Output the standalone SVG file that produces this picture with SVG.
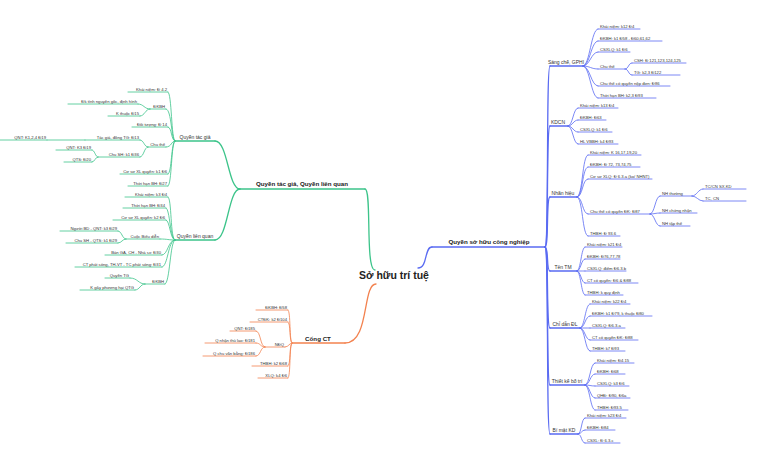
<svg xmlns="http://www.w3.org/2000/svg" width="768" height="467" viewBox="0 0 768 467">
<style>
text{font-family:"Liberation Sans",Arial,sans-serif;fill:#333;font-size:4.2px}
.r{text-anchor:end}
path{fill:none;stroke-width:0.8;stroke-linecap:round}
.g{stroke:#3cc48a}.b{stroke:#5a6bf2}.o{stroke:#f3824f}
.w{stroke-width:1.3}
.s{font-size:5px}
.m{font-size:6.2px;font-weight:bold;fill:#222}
</style>
<rect width="768" height="467" fill="#fff"/>
<g id="connectors">
<path class="g w" d="M375 270 C365 270 372 189 365 189"/>
<path class="g w" d="M240 189 C228 189 228 141 215 141"/>
<path class="g w" d="M240 189 C228 189 228 240 215 240"/>
<path class="g" d="M175 141 C171 141 172 92 168 92"/>
<path class="g" d="M175 141 C171 141 172 109 166 109"/>
<path class="g" d="M175 141 C171 141 172 127 168 127"/>
<path class="g" d="M175 141 C171 141 172 147 166 147"/>
<path class="g" d="M175 141 C171 141 172 174 168 174"/>
<path class="g" d="M175 141 C171 141 172 186 168 186"/>
<path class="g" d="M150 109 C144 109 144 104 138 104"/>
<path class="g" d="M150 109 C145 109 145 116 140 116"/>
<path class="g" d="M148 147 C144 147 144 140 140 140"/>
<path class="g" d="M148 147 C144 147 144 157 140 157"/>
<path class="g" d="M85 140 L47 140"/>
<path class="g" d="M98 157 C95 157 95 150 92 150"/>
<path class="g" d="M98 157 C95 157 95 162 92 162"/>
<path class="g" d="M175 240 C170 240 172 197 168 197"/>
<path class="g" d="M175 240 C170 240 170 208 166 208"/>
<path class="g" d="M175 240 C170 240 170 220 166 220"/>
<path class="g" d="M175 240 C168 240 168 239 160 239"/>
<path class="g" d="M175 240 C168 240 168 255 162 255"/>
<path class="g" d="M175 240 C168 240 168 267 162 267"/>
<path class="g" d="M175 240 C170 240 170 284 165 284"/>
<path class="g" d="M126 239 C122 239 122 231 118 231"/>
<path class="g" d="M126 239 C122 239 122 243 118 243"/>
<path class="g" d="M145 284 C138 284 138 278 130 278"/>
<path class="g" d="M145 284 C140 284 140 290 135 290"/>
<path class="o w" d="M376 284 C362 284 370 343 345 343"/>
<path class="o" d="M292 343 C289 343 291 310 288 310"/>
<path class="o" d="M292 343 C289 343 291 322 288 322"/>
<path class="o" d="M292 343 C289 343 289 347 285 347"/>
<path class="o" d="M292 343 C289 343 291 366 288 366"/>
<path class="o" d="M292 343 C289 343 291 378 288 378"/>
<path class="o" d="M265 347 C260 347 261 331 256 331"/>
<path class="o" d="M265 347 C260 347 261 343 256 343"/>
<path class="o" d="M265 347 C260 347 261 356 256 356"/>
<path class="b w" d="M418 268 C428 268 424 247 432 247"/>
<path class="b w" d="M545 247 C549 247 546 66 550 66"/>
<path class="b w" d="M545 247 C549 247 546 126 550 126"/>
<path class="b w" d="M545 247 C549 247 546 197 550 197"/>
<path class="b w" d="M545 247 C549 247 546 271 550 271"/>
<path class="b w" d="M545 247 C549 247 546 328 550 328"/>
<path class="b w" d="M545 247 C549 247 546 385 550 385"/>
<path class="b w" d="M545 247 C549 247 546 434 550 434"/>
<path class="b" d="M583 66 C590 66 591 29 598 29"/>
<path class="b" d="M583 66 C590 66 591 41 598 41"/>
<path class="b" d="M583 66 C590 66 591 52 598 52"/>
<path class="b" d="M583 66 C590 66 591 69 598 69"/>
<path class="b" d="M583 66 C590 66 591 86 598 86"/>
<path class="b" d="M583 66 C590 66 591 98 598 98"/>
<path class="b" d="M625 69 C629 69 628 63 632 63"/>
<path class="b" d="M625 69 C629 69 628 75 632 75"/>
<path class="b" d="M568 126 C573 126 573 108 578 108"/>
<path class="b" d="M568 126 C573 126 573 120 578 120"/>
<path class="b" d="M568 126 C573 126 573 132 578 132"/>
<path class="b" d="M568 126 C573 126 573 144 578 144"/>
<path class="b" d="M577 197 C583 197 582 155 588 155"/>
<path class="b" d="M577 197 C583 197 582 167 588 167"/>
<path class="b" d="M577 197 C583 197 582 179 588 179"/>
<path class="b" d="M577 197 C583 197 582 214 588 214"/>
<path class="b" d="M577 197 C583 197 582 236 588 236"/>
<path class="b" d="M650 214 C655 214 655 196 660 196"/>
<path class="b" d="M650 214 C655 214 655 213 660 213"/>
<path class="b" d="M650 214 C655 214 655 226 660 226"/>
<path class="b" d="M692 196 C697 196 698 189 703 189"/>
<path class="b" d="M692 196 C697 196 698 201 703 201"/>
<path class="b" d="M577 271 C581 271 581 247 585 247"/>
<path class="b" d="M577 271 C581 271 581 259 585 259"/>
<path class="b" d="M577 271 C581 271 581 271 585 271"/>
<path class="b" d="M577 271 C581 271 581 283 585 283"/>
<path class="b" d="M577 271 C581 271 581 295 585 295"/>
<path class="b" d="M580 328 C585 328 585 304 590 304"/>
<path class="b" d="M580 328 C585 328 585 316 590 316"/>
<path class="b" d="M580 328 C585 328 585 328 590 328"/>
<path class="b" d="M580 328 C585 328 585 340 590 340"/>
<path class="b" d="M580 328 C585 328 585 351 590 351"/>
<path class="b" d="M585 385 C590 385 590 363 595 363"/>
<path class="b" d="M585 385 C590 385 590 374 595 374"/>
<path class="b" d="M585 385 C590 385 590 386 595 386"/>
<path class="b" d="M585 385 C590 385 590 398 595 398"/>
<path class="b" d="M585 385 C590 385 590 410 595 410"/>
<path class="b" d="M578 434 C582 434 581 418 585 418"/>
<path class="b" d="M578 434 C582 434 581 430 585 430"/>
<path class="b" d="M578 434 C582 434 581 443 585 443"/>
</g>
<g id="root"><text x="394" y="279" text-anchor="middle" style="font-size:10.5px;font-weight:bold;fill:#222">Sở hữu trí tuệ</text></g>
<g id="qtg-main"><path class="g w" d="M240 189 H365"/><text class="m" x="302" y="186" text-anchor="middle">Quyền tác giả, Quyền liên quan</text></g>
<g id="qtg"><path class="g w" d="M175 141 H215"/><text class="s" x="195" y="139" text-anchor="middle">Quyền tác giả</text></g>
<g id="g1"><path class="g" d="M128 92 H168"/><text class="r" x="167" y="90.5">Khái niệm: Đ 4.2</text></g>
<g id="g2"><path class="g" d="M150 109 H166"/><text class="r" x="165" y="107.5">ĐKBH</text></g>
<g id="g2a"><path class="g" d="M68 104 H138"/><text class="r" x="137" y="102.5">Đk tính nguyên gốc, định hình</text></g>
<g id="g2b"><path class="g" d="M108 116 H140"/><text class="r" x="139" y="114.5">K thuộc Đ15</text></g>
<g id="g3"><path class="g" d="M132 127 H168"/><text class="r" x="167" y="125.5">Đối tượng: Đ 14</text></g>
<g id="g4"><path class="g" d="M148 147 H166"/><text class="r" x="165" y="145.5">Chủ thể</text></g>
<g id="g4a"><path class="g" d="M85 140 H140"/><text class="r" x="139" y="138.5">Tác giả, đồng TG: Đ13</text></g>
<g id="g4a1"><path class="g" d="M0 140 H47"/><text class="r" x="46" y="138.5">QNT: K1,2,4 Đ19</text></g>
<g id="g4b"><path class="g" d="M98 157 H140"/><text class="r" x="139" y="155.5">Chủ SH: k1 Đ36</text></g>
<g id="g4b1"><path class="g" d="M56 150 H92"/><text class="r" x="91" y="148.5">QNT: K3 Đ19</text></g>
<g id="g4b2"><path class="g" d="M64 162 H92"/><text class="r" x="91" y="160.5">QTS: Đ20</text></g>
<g id="g5"><path class="g" d="M120 174 H168"/><text class="r" x="167" y="172.5">Cơ sở XL quyền: k1 Đ6</text></g>
<g id="g6"><path class="g" d="M128 186 H168"/><text class="r" x="167" y="184.5">Thời hạn BH: Đ27</text></g>
<g id="qlq"><path class="g w" d="M175 240 H215"/><text class="s" x="195" y="238" text-anchor="middle">Quyền liên quan</text></g>
<g id="l1"><path class="g" d="M125 197 H168"/><text class="r" x="167" y="195.5">Khái niệm: k3 Đ4</text></g>
<g id="l2"><path class="g" d="M123 208 H166"/><text class="r" x="165" y="206.5">Thời hạn BH: Đ34</text></g>
<g id="l3"><path class="g" d="M113 220 H166"/><text class="r" x="165" y="218.5">Cơ sở XL quyền: k2 Đ6</text></g>
<g id="l4"><path class="g" d="M126 239 H160"/><text class="r" x="159" y="237.5">Cuộc Biểu diễn</text></g>
<g id="l4a"><path class="g" d="M60 231 H118"/><text class="r" x="117" y="229.5">Người BD - QNT: k3 Đ29</text></g>
<g id="l4b"><path class="g" d="M66 243 H118"/><text class="r" x="117" y="241.5">Chủ SH - QTS: k1 Đ29</text></g>
<g id="l5"><path class="g" d="M105 255 H162"/><text class="r" x="161" y="253.5">Bản GA, CH - Nhà sx: Đ30</text></g>
<g id="l6"><path class="g" d="M75 267 H162"/><text class="r" x="161" y="265.5">CT phát sóng, TH-VT - TC phát sóng: Đ31</text></g>
<g id="l7"><path class="g" d="M145 284 H165"/><text class="r" x="164" y="282.5">ĐKBH</text></g>
<g id="l7a"><path class="g" d="M105 278 H130"/><text class="r" x="129" y="276.5">Quyền TG</text></g>
<g id="l7b"><path class="g" d="M80 290 H135"/><text class="r" x="134" y="288.5">K gây phương hại QTG</text></g>
<g id="cong"><path class="o w" d="M292 343 H345"/><text class="m" x="318" y="341" text-anchor="middle">Cổng CT</text></g>
<g id="o1"><path class="o" d="M256 310 H288"/><text class="r" x="287" y="308.5">ĐKBH: Đ58</text></g>
<g id="o2"><path class="o" d="M250 322 H288"/><text class="r" x="287" y="320.5">CTĐK: k2 Đ104</text></g>
<g id="o3"><path class="o" d="M265 347 H285"/><text class="r" x="284" y="345.5">NĐQ</text></g>
<g id="o3a"><path class="o" d="M230 331 H256"/><text class="r" x="255" y="329.5">QNT: Đ185</text></g>
<g id="o3b"><path class="o" d="M205 343 H256"/><text class="r" x="255" y="341.5">Q nhận thù lao: Đ181</text></g>
<g id="o3c"><path class="o" d="M203 356 H256"/><text class="r" x="255" y="354.5">Q chủ văn bằng: Đ186</text></g>
<g id="o4"><path class="o" d="M252 366 H288"/><text class="r" x="287" y="364.5">THBH: k2 Đ68</text></g>
<g id="o5"><path class="o" d="M258 378 H288"/><text class="r" x="287" y="376.5">XLQ: k4 Đ6</text></g>
<g id="shcn"><path class="b w" d="M432 247 H545"/><text class="m" x="489" y="244" text-anchor="middle">Quyền sở hữu công nghiệp</text></g>
<g id="sc"><path class="b w" d="M550 66 H583"/><text class="s" x="566" y="64" text-anchor="middle">Sáng chế, GPHI</text></g>
<g id="sc1"><path class="b" d="M598 29 H640"/><text x="600" y="27.5">Khái niệm: k12 Đ4</text></g>
<g id="sc2"><path class="b" d="M598 41 H662"/><text x="600" y="39.5">ĐKBH: k1 Đ58 - Đ60,61,62</text></g>
<g id="sc3"><path class="b" d="M598 52 H630"/><text x="600" y="50.5">CSXLQ: k1 Đ6</text></g>
<g id="sc4"><path class="b" d="M598 69 H625"/><text x="600" y="67.5">Chủ thể</text></g>
<g id="sc4a"><path class="b" d="M632 63 H686"/><text x="634" y="61.5">CSH: Đ 121,123,124,125</text></g>
<g id="sc4b"><path class="b" d="M632 75 H680"/><text x="634" y="73.5">TG: k2,3 Đ122</text></g>
<g id="sc5"><path class="b" d="M598 86 H670"/><text x="600" y="84.5">Chủ thể có quyền nộp đơn: Đ86</text></g>
<g id="sc6"><path class="b" d="M598 98 H656"/><text x="600" y="96.5">Thời hạn BH: k2,3 Đ93</text></g>
<g id="kd"><path class="b w" d="M550 126 H568"/><text class="s" x="558" y="124" text-anchor="middle">KDCN</text></g>
<g id="kd1"><path class="b" d="M578 108 H618"/><text x="580" y="106.5">Khái niệm: k13 Đ4</text></g>
<g id="kd2"><path class="b" d="M578 120 H606"/><text x="580" y="118.5">ĐKBH: Đ63</text></g>
<g id="kd3"><path class="b" d="M578 132 H612"/><text x="580" y="130.5">CSXLQ: k1 Đ6</text></g>
<g id="kd4"><path class="b" d="M578 144 H618"/><text x="580" y="142.5">HL VBBH: k4 Đ93</text></g>
<g id="nh"><path class="b w" d="M550 197 H577"/><text class="s" x="563" y="195" text-anchor="middle">Nhãn hiệu</text></g>
<g id="nh1"><path class="b" d="M588 155 H641"/><text x="590" y="153.5">Khái niệm: K 16,17,19,20</text></g>
<g id="nh2"><path class="b" d="M588 167 H640"/><text x="590" y="165.5">ĐKBH: Đ 72, 73,74,75</text></g>
<g id="nh3"><path class="b" d="M588 179 H652"/><text x="590" y="177.5">Cơ sở XLQ: Đ 6.3.a (ko/ NHNT)</text></g>
<g id="nh4"><path class="b" d="M588 214 H650"/><text x="590" y="212.5">Chủ thể có quyền ĐK: Đ87</text></g>
<g id="nh4a"><path class="b" d="M660 196 H692"/><text x="662" y="194.5">NH thường</text></g>
<g id="nh4a1"><path class="b" d="M703 189 H746"/><text x="705" y="187.5">TC/CN SX,KD</text></g>
<g id="nh4a2"><path class="b" d="M703 201 H746"/><text x="705" y="199.5">TC, CN</text></g>
<g id="nh4b"><path class="b" d="M660 213 H697"/><text x="662" y="211.5">NH chứng nhận</text></g>
<g id="nh4c"><path class="b" d="M660 226 H690"/><text x="662" y="224.5">NH tập thể</text></g>
<g id="nh5"><path class="b" d="M588 236 H620"/><text x="590" y="234.5">THBH: Đ 93.6</text></g>
<g id="tm"><path class="b w" d="M550 271 H577"/><text class="s" x="563" y="269" text-anchor="middle">Tên TM</text></g>
<g id="tm1"><path class="b" d="M585 247 H622"/><text x="587" y="245.5">Khái niệm: k21 Đ4</text></g>
<g id="tm2"><path class="b" d="M585 259 H620"/><text x="587" y="257.5">ĐKBH: Đ76,77,78</text></g>
<g id="tm3"><path class="b" d="M585 271 H626"/><text x="587" y="269.5">CSXLQ: điểm Đ6.3.b</text></g>
<g id="tm4"><path class="b" d="M585 283 H638"/><text x="587" y="281.5">CT có quyền: Đ6 &amp; Đ88</text></g>
<g id="tm5"><path class="b" d="M585 295 H623"/><text x="587" y="293.5">THBH: k quy định</text></g>
<g id="cd"><path class="b w" d="M550 328 H580"/><text class="s" x="565" y="326" text-anchor="middle">Chỉ dẫn ĐL</text></g>
<g id="cd1"><path class="b" d="M590 304 H630"/><text x="592" y="302.5">Khái niệm: k22 Đ4</text></g>
<g id="cd2"><path class="b" d="M590 316 H652"/><text x="592" y="314.5">ĐKBH: k1 Đ79, k thuộc Đ80</text></g>
<g id="cd3"><path class="b" d="M590 328 H625"/><text x="592" y="326.5">CSXLQ: Đ6.3.a</text></g>
<g id="cd4"><path class="b" d="M590 340 H638"/><text x="592" y="338.5">CT có quyền ĐK: Đ88</text></g>
<g id="cd5"><path class="b" d="M590 351 H625"/><text x="592" y="349.5">THBH: k7 Đ93</text></g>
<g id="tk"><path class="b w" d="M550 385 H585"/><text class="s" x="567" y="383" text-anchor="middle">Thiết kế bố trí</text></g>
<g id="tk1"><path class="b" d="M595 363 H634"/><text x="597" y="361.5">Khái niệm: Đ4.15</text></g>
<g id="tk2"><path class="b" d="M595 374 H625"/><text x="597" y="372.5">ĐKBH: Đ68</text></g>
<g id="tk3"><path class="b" d="M595 386 H629"/><text x="597" y="384.5">CSXLQ: k3 Đ6</text></g>
<g id="tk4"><path class="b" d="M595 398 H630"/><text x="597" y="396.5">QHĐ: Đ90, Đ6a</text></g>
<g id="tk5"><path class="b" d="M595 410 H628"/><text x="597" y="408.5">THBH: Đ93.5</text></g>
<g id="bm"><path class="b w" d="M550 434 H578"/><text class="s" x="564" y="432" text-anchor="middle">Bí mật KD</text></g>
<g id="bm1"><path class="b" d="M585 418 H626"/><text x="587" y="416.5">Khái niệm: k23 Đ4</text></g>
<g id="bm2"><path class="b" d="M585 430 H615"/><text x="587" y="428.5">ĐKBH: Đ84</text></g>
<g id="bm3"><path class="b" d="M585 443 H620"/><text x="587" y="441.5">CSXL: Đ 6.3.c</text></g>
</svg>
